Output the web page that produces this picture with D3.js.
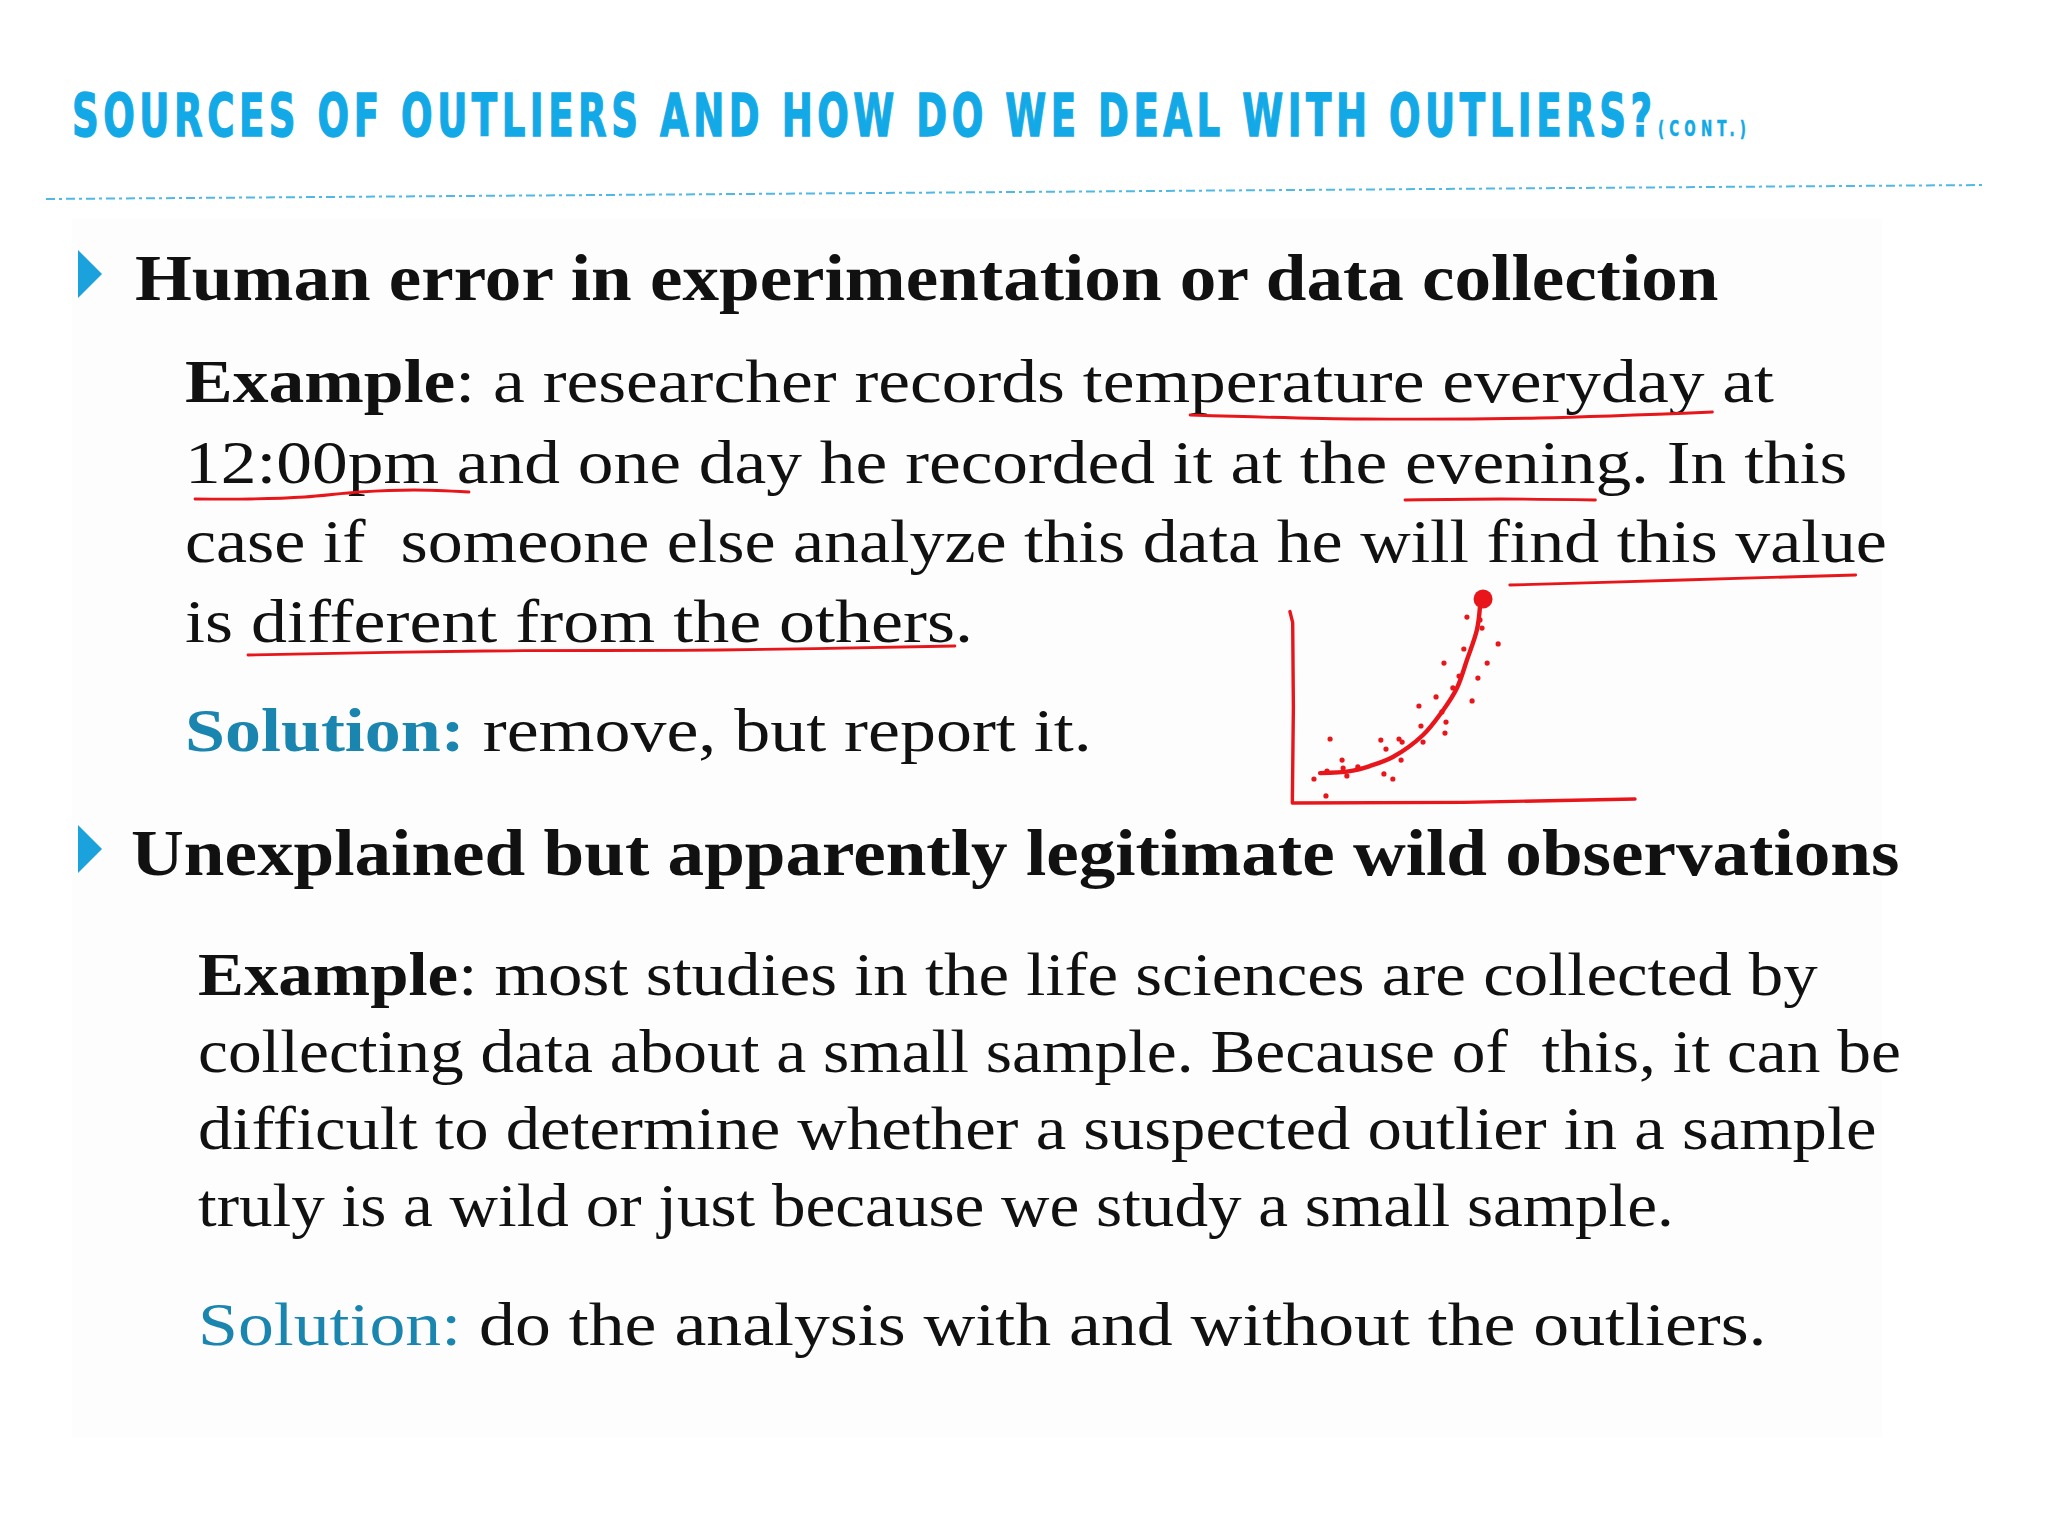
<!DOCTYPE html>
<html>
<head>
<meta charset="utf-8">
<script src="https://cdn.jsdelivr.net/npm/d3@7"></script>
<style>
  body { margin: 0; background: #fff; }
  text { white-space: pre; }
</style>
</head>
<body>
<svg id="slide" width="2048" height="1536"></svg>
<script>
'use strict';

// slide texts
const titleText = 'SOURCES OF OUTLIERS AND HOW DO WE DEAL WITH OUTLIERS?';
const titleSuffix = '(CONT.)';
const headings = [
    'Human error in experimentation or data collection',
    'Unexplained but apparently legitimate wild observations'
];
const para1 = [
    [['Example', 'bold'], [': a researcher records temperature everyday at', '']],
    [['12:00pm and one day he recorded it at the evening. In this', '']],
    [['case if  someone else analyze this data he will find this value', '']],
    [['is different from the others.', '']],
    [['Solution:', 'solBold'], [' remove, but report it.', '']]
];
const para2 = [
    [['Example', 'bold'], [': most studies in the life sciences are collected by', '']],
    [['collecting data about a small sample. Because of  this, it can be', '']],
    [['difficult to determine whether a suspected outlier in a sample', '']],
    [['truly is a wild or just because we study a small sample.', '']],
    [['Solution:', 'sol'], [' do the analysis with and without the outliers.', '']]
];

// hand drawn sketch: fitted curve, scattered readings, the odd reading
const curveX = [0.82, 1.69, 2.27, 2.94, 3.82, 4.37, 4.81, 5.10, 5.39, 5.48];
const curveY = [1.36, 1.45, 1.68, 2.09, 3.09, 4.14, 5.23, 6.50, 7.86, 8.91];
const pointsX = [0.64, 0.99, 1.02, 1.46, 1.49, 1.60, 1.92, 1.11, 2.59, 2.74, 2.68, 2.94, 3.12, 3.21, 3.18,
                 3.70, 3.76, 3.82, 4.20, 4.43, 4.49, 4.46, 4.37, 4.69, 4.87, 5.01, 5.10, 5.48, 5.54, 5.42,
                 5.25, 5.69, 6.01];
const pointsY = [1.09, 0.32, 1.45, 1.95, 1.59, 1.23, 1.64, 2.91, 2.86, 2.45, 1.32, 1.09, 2.91, 2.77, 1.95,
                 4.41, 3.50, 2.77, 4.82, 6.36, 3.68, 3.18, 4.14, 5.23, 5.77, 7.00, 8.45, 8.32, 7.95, 5.68,
                 4.64, 6.36, 7.23];
const outlierX = [5.57];
const outlierY = [9.27];
const axisTop = 8.7;
const axisEnd = 10;
const axisEndLift = 0.18;

// pen strokes under the text: which row, which words
const underlineSpecs = [
    { row: 'p1-0', text: 'perature everyday', padL: 0, padR: 8, dy: [13, 17, 16, 10] },
    { row: 'p1-1', text: '12:00pm', padL: 10, padR: 30, dy: [16, 16, 14, 9, 7, 9] },
    { row: 'p1-1', text: 'evenin', padL: 0, padR: 0, dy: [17, 16, 17] },
    { row: 'p1-2', text: 'ind this valu', padL: 0, padR: 0, dy: [23, 18, 13] },
    { row: 'p1-3', text: 'different from the others', padL: -3, padR: 0, dy: [13, 9, 8, 4] }
];

const blue = '#12a9e6';
const teal = '#1a86b0';
const pen = '#e8161b';
const serif = "'Liberation Serif', 'Times New Roman', serif";

const svg = d3.select('#slide');
svg.append('rect').attr('width', 2048).attr('height', 1536).attr('fill', '#ffffff');
svg.append('rect').attr('x', 72).attr('y', 218).attr('width', 1810).attr('height', 1220).attr('fill', '#fdfdfd');

// narrow, spaced caps: squeeze the glyphs, then spread the letters to the width
function condensedText(str, x, y, size, squeeze, target)
{
    const g = svg.append('g').attr('transform', 'translate(' + x + ',' + y + ') scale(' + squeeze + ',1)');
    const t = g.append('text')
        .attr('font-family', "'DejaVu Sans', sans-serif")
        .attr('font-weight', 'bold').attr('font-size', size)
        .attr('fill', blue).attr('stroke', blue).attr('stroke-width', size / 40)
        .text(str);
    const w = t.node().getComputedTextLength();
    t.attr('letter-spacing', (target / squeeze - w) / (str.length - 1));
}

condensedText(titleText, 72, 136, 58, 0.64, 1580);
condensedText(titleSuffix, 1658, 136, 21, 0.64, 88);

svg.append('line')
    .attr('x1', 46).attr('y1', 199).attr('x2', 1985).attr('y2', 185)
    .attr('stroke', '#4fb8e3').attr('stroke-width', 2)
    .attr('stroke-dasharray', '9,4,3,4');

// bullets
const bulletY = [274, 849];
svg.selectAll('path.bullet').data(bulletY).enter().append('path')
    .attr('class', 'bullet')
    .attr('d', (d) => d3.line()([[78, d - 24], [78, d + 24], [102, d]]) + 'Z')
    .attr('fill', '#1ba2dd');

const rows = {};

function drawRow(id, segments, x, y, end, size)
{
    const g = svg.append('g');
    const t = g.append('text')
        .attr('font-family', serif).attr('font-size', size).attr('fill', '#111');
    segments.forEach((s) => {
        const sp = t.append('tspan').text(s[0]);
        if (s[1] === 'bold') sp.attr('font-weight', 'bold');
        if (s[1] === 'solBold') sp.attr('font-weight', 'bold').attr('fill', teal);
        if (s[1] === 'sol') sp.attr('fill', teal);
    });
    const w = t.node().getComputedTextLength();
    const k = (end - x) / w;
    g.attr('transform', 'translate(' + x + ',' + y + ') scale(' + k + ',1)');
    rows[id] = { text: t, x: x, y: y, k: k };
}

drawRow('h-0', [[headings[0], 'bold']], 135, 300, 1719, 66);
drawRow('h-1', [[headings[1], 'bold']], 131, 875, 1900, 66);

const p1Base = [402, 483, 562, 642, 751];
const p1Ends = [1774, 1848, 1887, 973, 1092];
para1.forEach((segs, i) => drawRow('p1-' + i, segs, 185, p1Base[i], p1Ends[i], 62));

const p2Base = [995, 1072, 1149, 1226, 1345];
const p2Ends = [1818, 1901, 1877, 1674, 1767];
para2.forEach((segs, i) => drawRow('p2-' + i, segs, 198, p2Base[i], p2Ends[i], 62));

// underlines
const penLine = d3.line().curve(d3.curveCatmullRom);
underlineSpecs.forEach((u) => {
    const r = rows[u.row];
    const node = r.text.node();
    const i = node.textContent.indexOf(u.text);
    const a = node.getStartPositionOfChar(i).x;
    const b = node.getEndPositionOfChar(i + u.text.length - 1).x;
    const x0 = r.x + r.k * a + u.padL;
    const x1 = r.x + r.k * b + u.padR;
    const sx = d3.scaleLinear().domain([0, u.dy.length - 1]).range([x0, x1]);
    svg.append('path')
        .attr('d', penLine(u.dy.map((d, j) => [sx(j), r.y + d])))
        .attr('fill', 'none').attr('stroke', pen)
        .attr('stroke-width', 2.8).attr('stroke-linecap', 'round');
});

// sketch plot
const x = d3.scaleLinear().domain([0, 10]).range([1292, 1635]);
const y = d3.scaleLinear().domain([0, 10]).range([803, 583]);

svg.append('path')
    .attr('d', d3.line()([
        [x(-0.06), y(axisTop)], [x(0.02), y(axisTop - 0.5)], [x(0.04), y(axisTop / 2)], [x(0.01), y(0)],
        [x(axisEnd / 2), y(0.03)], [x(axisEnd), y(axisEndLift)]
    ]))
    .attr('fill', 'none').attr('stroke', pen).attr('stroke-width', 3.4)
    .attr('stroke-linecap', 'round').attr('stroke-linejoin', 'round');

svg.append('path')
    .attr('d', d3.line().curve(d3.curveCatmullRom)
        .x((d) => x(d[0])).y((d) => y(d[1]))(d3.zip(curveX, curveY)))
    .attr('fill', 'none').attr('stroke', pen).attr('stroke-width', 4.4)
    .attr('stroke-linecap', 'round');

svg.selectAll('circle.pt').data(d3.zip(pointsX, pointsY)).enter().append('circle')
    .attr('class', 'pt')
    .attr('cx', (d) => x(d[0])).attr('cy', (d) => y(d[1]))
    .attr('r', 2.6).attr('fill', pen);

svg.selectAll('circle.odd').data(d3.zip(outlierX, outlierY)).enter().append('circle')
    .attr('class', 'odd')
    .attr('cx', (d) => x(d[0])).attr('cy', (d) => y(d[1]))
    .attr('r', 9.5).attr('fill', pen);
</script>
</body>
</html>
